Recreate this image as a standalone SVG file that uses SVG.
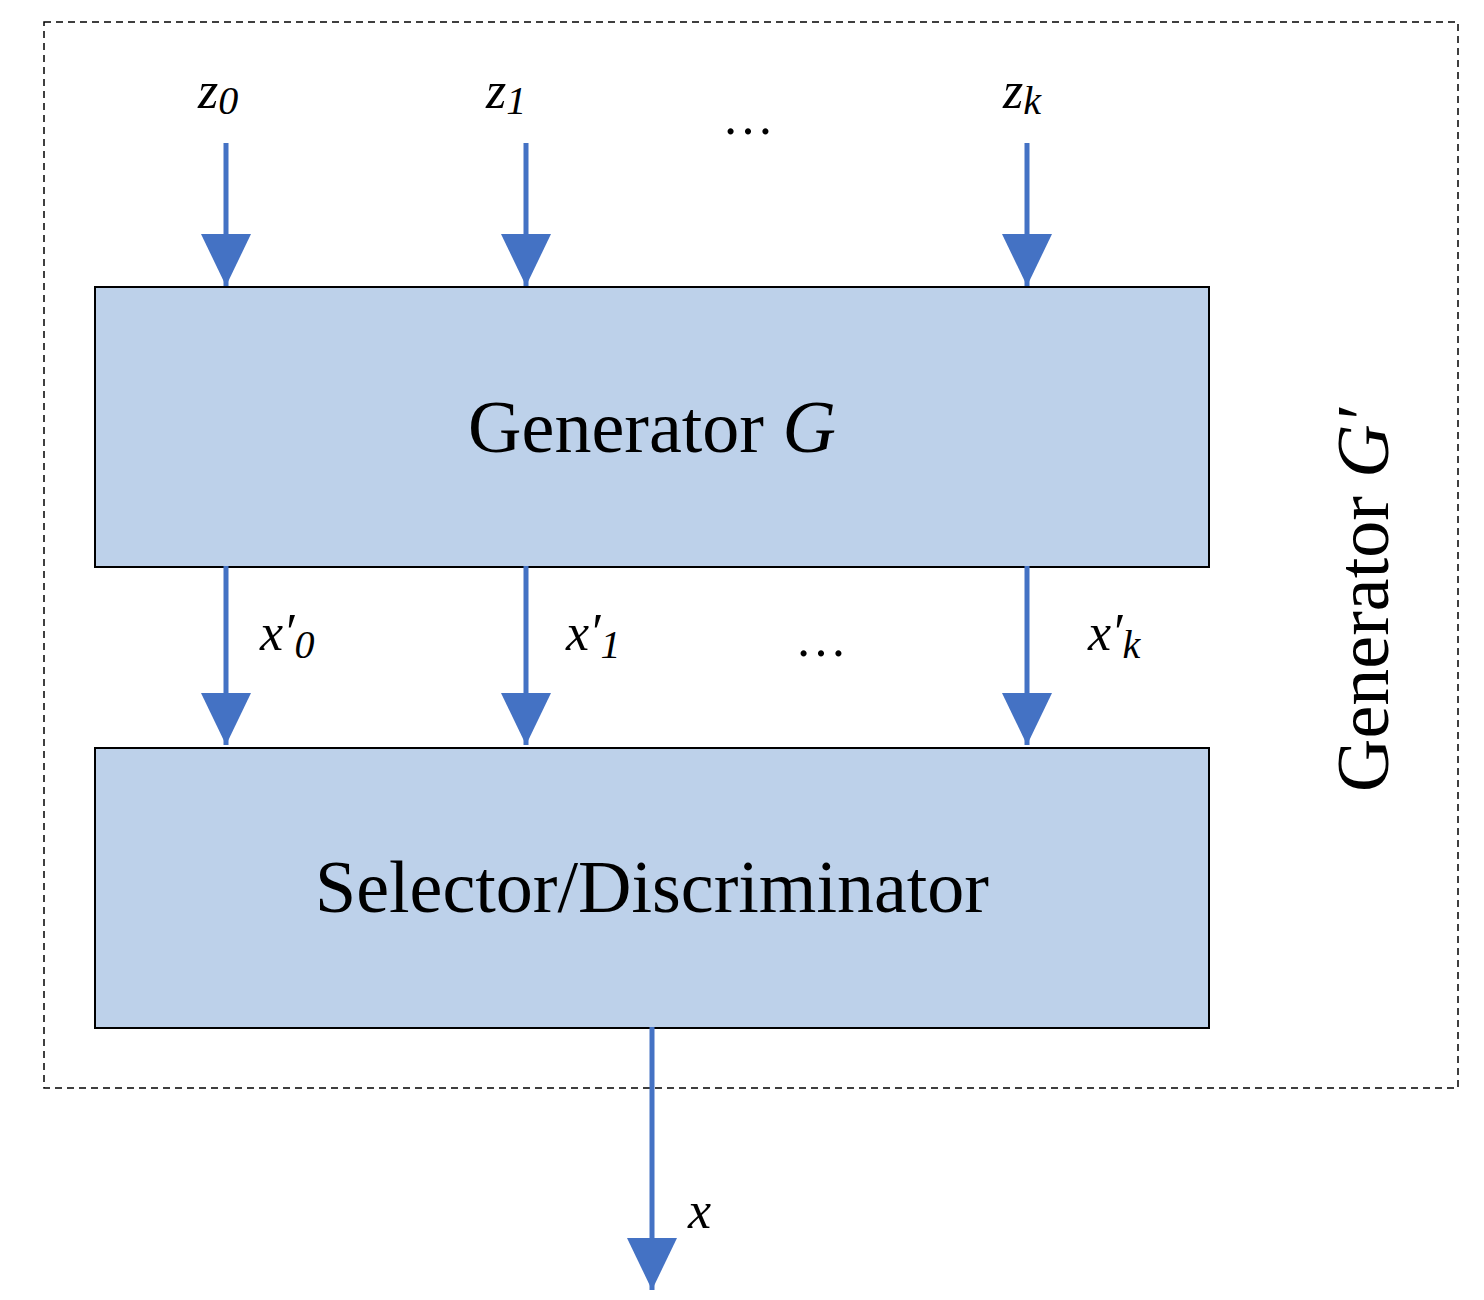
<svg xmlns="http://www.w3.org/2000/svg" width="1484" height="1300" viewBox="0 0 1484 1300">
<style>
.box{fill:#bdd1ea;stroke:#000;stroke-width:2}
.ln{stroke:#4472c4;stroke-width:5;fill:none}
.t{font-family:"Liberation Serif",serif;fill:#000}
.i{font-style:italic}
</style>
<defs><marker id="ah" markerUnits="userSpaceOnUse" markerWidth="52" markerHeight="50" refX="52" refY="25" orient="auto"><path d="M0,0 L52,25 L0,50 Z" fill="#4472c4"/></marker></defs>
<rect x="44" y="22" width="1414" height="1066" fill="none" stroke="#000" stroke-width="1.5" stroke-dasharray="7,5"/>
<g id="gen"><rect class="box" x="95" y="287" width="1114" height="280"/><text class="t" x="652" y="452" font-size="74" text-anchor="middle">Generator <tspan class="i">G</tspan></text></g>
<g id="sel"><rect class="box" x="95" y="748" width="1114" height="280"/><text class="t" x="652" y="912" font-size="74" text-anchor="middle">Selector/Discriminator</text></g>
<g id="outer"><text class="t" x="0" y="0" font-size="74" text-anchor="middle" transform="translate(1388,600) rotate(-90)">Generator <tspan class="i">G′</tspan></text></g>
<g id="connectors">
<line class="ln" x1="226" y1="143" x2="226" y2="286" marker-end="url(#ah)"/>
<line class="ln" x1="526" y1="143" x2="526" y2="286" marker-end="url(#ah)"/>
<line class="ln" x1="1027" y1="143" x2="1027" y2="286" marker-end="url(#ah)"/>
<line class="ln" x1="226" y1="566" x2="226" y2="745" marker-end="url(#ah)"/>
<line class="ln" x1="526" y1="566" x2="526" y2="745" marker-end="url(#ah)"/>
<line class="ln" x1="1027" y1="566" x2="1027" y2="745" marker-end="url(#ah)"/>
<line class="ln" x1="652" y1="1027" x2="652" y2="1290" marker-end="url(#ah)"/>
</g>
<g class="t i" font-size="52">
<text x="198" y="108">z<tspan font-size="40" dy="6">0</tspan></text>
<text x="486" y="108">z<tspan font-size="40" dy="6">1</tspan></text>
<text x="1003" y="108">z<tspan font-size="40" dy="6">k</tspan></text>
<text x="260" y="650">x′<tspan font-size="40" dy="8">0</tspan></text>
<text x="566" y="650">x′<tspan font-size="40" dy="8">1</tspan></text>
<text x="1088" y="650">x′<tspan font-size="40" dy="8">k</tspan></text>
<text x="688" y="1228">x</text>
</g>
<g class="t" font-size="52"><text x="722" y="134">…</text><text x="795" y="656">…</text></g>
</svg>
